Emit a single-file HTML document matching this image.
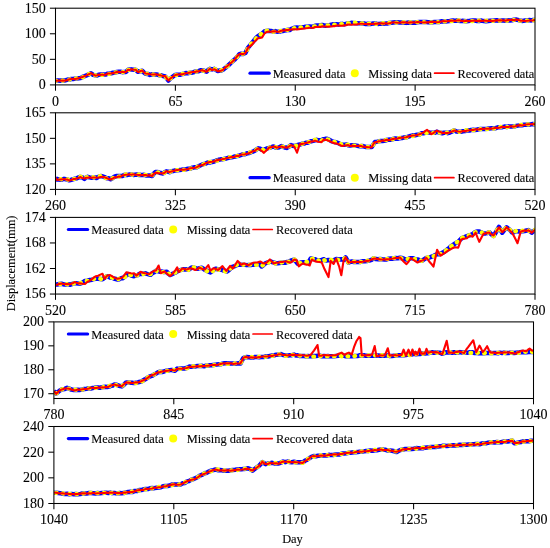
<!DOCTYPE html>
<html><head><meta charset="utf-8"><style>
html,body{margin:0;padding:0;background:#fff;width:550px;height:548px;overflow:hidden}
svg{display:block}
.tk{font-family:'Liberation Serif', 'Times New Roman', serif;font-size:14px;fill:#000;stroke:#000;stroke-width:0.1px}
.lg{font-family:'Liberation Serif', 'Times New Roman', serif;font-size:12.4px;fill:#000;stroke:#000;stroke-width:0.1px}
</style></head><body>
<svg width="550" height="548" viewBox="0 0 550 548">
<rect width="550" height="548" fill="#fff"/>
<clipPath id="c0"><rect x="55.5" y="8.2" width="479.5" height="76.7"/></clipPath>
<g clip-path="url(#c0)" fill="none" stroke-linejoin="round">
<polyline points="55.50,80.80 56.83,80.61 58.67,80.42 60.50,80.71 62.30,80.20 64.10,80.43 65.90,80.21 67.73,79.62 69.57,79.57 71.40,78.88 73.20,79.02 75.00,78.63 76.80,78.51 78.63,78.28 80.47,78.10 82.30,77.14 84.10,76.27 85.90,75.62 87.70,74.91 89.35,74.00 91.00,73.23 93.20,74.83 95.40,75.38 97.00,75.55 98.60,74.75 100.43,74.55 102.27,74.43 104.10,74.47 105.90,74.45 107.70,73.64 109.50,73.56 111.33,73.26 113.17,72.74 115.00,72.53 116.83,71.99 118.67,71.79 120.50,71.69 122.30,72.13 124.10,72.05 125.90,72.07 128.10,69.76 129.75,69.57 131.40,69.36 133.55,69.81 135.70,69.84 137.90,71.72 140.10,71.15 142.30,70.82 143.90,72.41 145.50,73.66 147.70,73.90 149.90,74.94 151.73,74.27 153.57,74.41 155.40,74.58 157.20,74.52 159.00,75.13 160.80,75.18 163.00,76.02 165.20,76.49 166.85,78.35 168.50,80.56 170.10,78.72 171.70,77.54 173.35,76.22 175.00,74.96 176.83,74.70 178.67,74.80 180.50,74.71 182.30,74.02 184.10,73.78 185.90,72.99 187.73,73.17 189.57,72.87 191.40,72.85 193.20,72.36 195.00,71.62 196.80,71.32 198.63,71.15 200.47,70.33 202.30,70.27 204.45,70.87 206.60,71.63 208.25,69.94 209.90,68.79 212.10,69.44 214.30,68.82 215.90,69.82 217.50,71.06 219.15,70.51 220.80,70.76 223.00,69.73 225.20,68.07 227.40,66.12 229.55,64.25 231.70,61.94 233.35,60.64 235.00,59.20 237.20,56.82 239.40,54.12 241.05,53.81 242.70,54.07 245.40,53.01 248.10,47.61 250.20,45.14 252.30,42.56 254.10,40.30 255.90,38.09 257.70,36.34 259.90,34.91 262.10,33.65 264.30,31.52 266.50,30.93 268.65,30.81 270.80,30.88 273.30,31.52 275.13,31.09 276.97,31.68 278.80,31.60 280.63,31.40 282.47,31.08 284.30,30.52 286.10,30.30 287.90,29.86 289.70,29.99 291.47,28.93 293.23,28.26 295.00,27.70 296.83,27.60 298.67,27.65 300.50,27.39 302.30,27.12 304.10,26.99 305.90,26.72 307.73,26.77 309.57,26.40 311.40,26.86 313.20,26.38 315.00,25.75 316.80,25.53 318.63,25.43 320.47,25.27 322.30,24.94 324.10,25.54 325.90,25.75 327.70,25.48 329.53,25.19 331.37,24.61 333.20,24.32 335.00,24.42 336.80,24.30 338.60,24.63 340.43,24.06 342.27,23.87 344.10,24.42 345.90,23.85 347.70,23.32 349.50,23.33 351.33,22.84 353.17,23.05 355.00,23.23 356.83,23.32 358.67,23.37 360.50,23.23 362.33,23.47 364.17,23.50 366.00,24.09 368.16,23.86 370.32,23.98 372.48,23.60 374.64,23.47 376.80,23.82 378.98,23.88 381.16,23.73 383.34,23.63 385.52,23.58 387.70,23.47 389.53,22.88 391.37,22.85 393.20,22.50 395.38,22.27 397.56,22.27 399.74,22.45 401.92,22.43 404.10,22.73 406.28,22.88 408.46,22.48 410.64,22.79 412.82,22.78 415.00,22.72 417.18,22.25 419.36,22.08 421.54,22.03 423.72,21.95 425.90,21.89 428.08,22.17 430.26,22.34 432.44,22.28 434.62,22.01 436.80,22.11 438.98,22.01 441.15,21.31 443.32,21.51 445.50,21.49 447.43,21.27 449.35,21.13 451.27,20.81 453.20,20.47 455.00,20.87 456.80,20.52 458.60,20.81 460.43,21.10 462.27,20.86 464.10,21.03 466.28,21.33 468.46,21.10 470.64,20.63 472.82,20.52 475.00,20.46 477.18,21.02 479.36,20.99 481.54,20.57 483.72,21.09 485.90,21.24 488.08,20.95 490.26,20.68 492.44,20.75 494.62,20.40 496.80,20.26 498.98,20.87 501.16,20.58 503.34,20.44 505.52,20.66 507.70,20.25 509.90,20.41 512.10,20.23 514.30,19.65 516.50,19.53 518.65,20.21 520.80,20.82 522.97,20.89 525.15,20.48 527.33,20.42 529.50,20.04 531.33,20.45 533.17,19.93 535.00,19.90" stroke="#0000ff" stroke-width="4.5"/>
<polyline points="55.50,80.80 56.83,80.69 58.67,80.75 60.50,81.00 62.30,80.42 64.10,80.82 65.90,80.30 67.73,79.97 69.57,79.59 71.40,78.72 73.20,79.01 75.00,78.62 76.80,78.30 78.63,78.63 80.47,77.54 82.30,77.37 84.10,76.69 85.90,75.59 87.70,74.43 89.35,73.97 91.00,73.36 93.20,74.78 95.40,75.31 97.00,75.36 98.60,74.65 100.43,74.58 102.27,74.97 104.10,74.61 105.90,74.30 107.70,74.13 109.50,73.91 111.33,73.11 113.17,72.95 115.00,72.51 116.83,72.31 118.67,72.29 120.50,71.85 122.30,72.03 124.10,72.08 125.90,72.64 128.10,69.90 129.75,69.98 131.40,69.94 133.55,69.36 135.70,69.76 137.90,72.34 140.10,71.44 142.30,70.44 143.90,71.77 145.50,73.44 147.70,73.62 149.90,74.34 151.73,74.11 153.57,74.64 155.40,74.68 157.20,75.16 159.00,74.79 160.80,75.72 163.00,76.06 165.20,75.94 166.85,78.68 168.50,80.77 170.10,78.57 171.70,77.85 173.35,76.05 175.00,74.89 176.83,75.22 178.67,74.90 180.50,74.06 182.30,73.96 184.10,73.68 185.90,73.14 187.73,72.73 189.57,72.59 191.40,72.72 193.20,71.65 195.00,71.82 196.80,71.34 198.63,70.55 200.47,70.50 202.30,70.42 204.45,71.11 206.60,71.46 208.25,70.74 209.90,68.89 212.10,70.17 214.30,68.60 215.90,69.67 217.50,70.34 219.15,71.08 220.80,70.57 223.00,69.33 225.20,67.72 227.40,66.31 229.55,64.32 231.70,61.86 233.35,60.35 235.00,59.72 237.20,56.62 239.40,54.00 241.05,53.64 242.70,53.86 245.40,53.39 248.10,47.73 250.20,44.72 252.30,42.94 254.10,40.60 255.90,38.73 257.70,35.98 259.90,35.36 262.10,33.17 264.30,31.56 266.50,30.75 268.65,30.64 270.80,30.85 273.30,31.83 275.13,31.17 276.97,31.03 278.80,31.43 280.63,30.87 282.47,30.48 284.30,30.26 286.10,29.92 287.90,29.84 289.70,29.71 291.47,29.04 293.23,28.83 295.00,27.69 296.83,27.83 298.67,27.44 300.50,27.55 302.30,26.98 304.10,26.98 305.90,26.52 307.73,27.10 309.57,26.78 311.40,26.29 313.20,26.27 315.00,26.43 316.80,25.31 318.63,25.85 320.47,25.30 322.30,25.20 324.10,25.63 325.90,25.29 327.70,25.51 329.53,25.39 331.37,25.38 333.20,24.44 335.00,24.87 336.80,24.67 338.60,24.54 340.43,24.20 342.27,24.05 344.10,23.65 345.90,23.46 347.70,23.14 349.50,23.54 351.33,22.92 353.17,22.70 355.00,22.48 356.83,23.41 358.67,23.60 360.50,23.57 362.33,23.35 364.17,23.48 366.00,23.69 368.16,23.80 370.32,23.44 372.48,23.67 374.64,23.42 376.80,24.06 378.98,24.01 381.16,23.53 383.34,23.16 385.52,23.83 387.70,23.11 389.53,22.92 391.37,22.33 393.20,22.48 395.38,22.57 397.56,22.60 399.74,22.30 401.92,22.60 404.10,22.10 406.28,22.32 408.46,22.11 410.64,22.38 412.82,21.98 415.00,21.92 417.18,22.14 419.36,22.01 421.54,22.31 423.72,22.19 425.90,22.35 428.08,22.24 430.26,22.28 432.44,22.42 434.62,21.91 436.80,21.83 438.98,22.28 441.15,21.25 443.32,21.62 445.50,21.34 447.43,20.62 449.35,21.29 451.27,21.22 453.20,20.83 455.00,20.90 456.80,20.95 458.60,20.24 460.43,20.79 462.27,20.94 464.10,21.43 466.28,21.32 468.46,21.27 470.64,20.94 472.82,21.17 475.00,20.88 477.18,20.93 479.36,20.51 481.54,20.35 483.72,20.49 485.90,20.76 488.08,20.44 490.26,21.12 492.44,20.78 494.62,20.79 496.80,20.73 498.98,20.72 501.16,20.47 503.34,19.92 505.52,20.66 507.70,20.55 509.90,20.15 512.10,20.04 514.30,20.01 516.50,19.27 518.65,20.59 520.80,20.75 522.97,20.40 525.15,20.42 527.33,20.70 529.50,20.01 531.33,20.41 533.17,20.51 535.00,19.90" stroke="#ffff00" stroke-width="4.2" stroke-linecap="round" stroke-dasharray="0.8 6.2" stroke-dashoffset="0.0"/>
<polyline points="55.50,80.80 56.83,80.73 58.67,80.58 60.50,80.59 62.30,80.63 64.10,80.59 65.90,80.38 67.73,80.03 69.57,79.27 71.40,78.95 73.20,78.89 75.00,79.10 76.80,78.66 78.63,78.38 80.47,77.53 82.30,77.09 84.10,76.30 85.90,75.65 87.70,74.73 89.35,74.07 91.00,73.15 93.20,74.51 95.40,75.68 97.00,75.28 98.60,74.63 100.43,75.08 102.27,74.49 104.10,74.93 105.90,74.54 107.70,73.53 109.50,73.47 111.33,73.39 113.17,73.16 115.00,72.46 116.83,72.14 118.67,71.90 120.50,72.21 122.30,71.80 124.10,72.16 125.90,71.95 128.10,69.72 129.75,69.92 131.40,69.24 133.55,69.82 135.70,69.71 137.90,72.17 140.10,71.24 142.30,70.61 143.90,72.43 145.50,73.49 147.70,73.72 149.90,74.25 151.73,74.53 153.57,74.43 155.40,74.26 157.20,74.52 159.00,75.02 160.80,75.37 163.00,76.14 165.20,75.95 166.85,78.48 168.50,80.54 170.10,78.58 171.70,77.70 173.35,76.30 175.00,75.18 176.83,74.59 178.67,74.48 180.50,74.33 182.30,74.38 184.10,73.73 185.90,73.20 187.73,72.98 189.57,72.61 191.40,72.18 193.20,71.85 195.00,72.00 196.80,71.25 198.63,71.34 200.47,70.49 202.30,70.14 204.45,71.11 206.60,71.68 208.25,70.16 209.90,68.92 212.10,69.97 214.30,69.22 215.90,69.99 217.50,71.09 219.15,71.11 220.80,70.83 223.00,69.85 225.20,67.48 227.40,66.06 229.55,63.97 231.70,62.28 233.35,60.80 235.00,59.15 237.20,56.23 239.40,54.10 241.05,53.79 242.70,54.28 245.40,53.09 248.10,47.66 250.20,46.07 252.30,44.33 254.10,42.00 255.90,40.44 257.70,38.36 259.90,38.04 262.10,37.43 264.30,33.77 266.50,31.96 268.65,31.65 270.80,31.78 273.30,31.40 275.13,31.20 276.97,31.68 278.80,31.75 280.63,31.10 282.47,30.61 284.30,30.38 286.10,30.08 287.90,30.02 289.70,29.61 291.47,29.48 293.23,29.26 295.00,29.25 296.83,29.40 298.67,29.24 300.50,28.94 302.30,28.71 304.10,28.55 305.90,28.21 307.73,28.05 309.57,27.73 311.40,27.74 313.20,27.93 315.00,27.04 316.80,27.00 318.63,26.92 320.47,26.92 322.30,26.30 324.10,26.44 325.90,26.52 327.70,26.73 329.53,26.46 331.37,26.52 333.20,26.14 335.00,26.09 336.80,25.43 338.60,25.37 340.43,25.75 342.27,25.78 344.10,25.38 345.90,25.19 347.70,24.52 349.50,24.52 351.33,24.77 353.17,24.56 355.00,24.45 356.83,24.48 358.67,23.92 360.50,23.78 362.33,23.76 364.17,23.97 366.00,24.03 368.16,24.15 370.32,23.94 372.48,23.82 374.64,23.85 376.80,23.57 378.98,23.58 381.16,23.16 383.34,23.62 385.52,23.17 387.70,23.59 389.53,23.17 391.37,22.70 393.20,22.34 395.38,22.43 397.56,22.70 399.74,22.74 401.92,22.33 404.10,22.30 406.28,22.58 408.46,22.58 410.64,22.40 412.82,22.25 415.00,22.47 417.18,22.00 419.36,22.14 421.54,22.19 423.72,22.48 425.90,22.20 428.08,22.35 430.26,22.04 432.44,21.85 434.62,21.84 436.80,22.32 438.98,21.94 441.15,21.47 443.32,21.07 445.50,21.20 447.43,21.20 449.35,20.89 451.27,20.66 453.20,20.82 455.00,20.96 456.80,20.44 458.60,20.27 460.43,20.65 462.27,20.88 464.10,21.23 466.28,20.81 468.46,21.15 470.64,21.03 472.82,20.78 475.00,20.49 477.18,21.07 479.36,20.65 481.54,21.04 483.72,20.67 485.90,20.71 488.08,21.02 490.26,20.64 492.44,21.04 494.62,20.66 496.80,20.38 498.98,20.35 501.16,20.42 503.34,20.54 505.52,20.67 507.70,20.05 509.90,20.08 512.10,19.80 514.30,20.18 516.50,19.45 518.65,20.04 520.80,20.69 522.97,20.75 525.15,20.93 527.33,20.74 529.50,20.46 531.33,20.51 533.17,20.34 535.00,19.90" stroke="#ff0000" stroke-width="2.1"/>
</g>
<rect x="55.5" y="8.2" width="479.5" height="76.7" fill="none" stroke="#000" stroke-width="1.05"/>
<line x1="49.9" y1="84.90" x2="55.5" y2="84.90" stroke="#000" stroke-width="1.05"/>
<text x="45.70" y="89.30" text-anchor="end" class="tk">0</text>
<line x1="49.9" y1="59.33" x2="55.5" y2="59.33" stroke="#000" stroke-width="1.05"/>
<text x="45.70" y="63.73" text-anchor="end" class="tk">50</text>
<line x1="49.9" y1="33.77" x2="55.5" y2="33.77" stroke="#000" stroke-width="1.05"/>
<text x="45.70" y="38.17" text-anchor="end" class="tk">100</text>
<line x1="49.9" y1="8.20" x2="55.5" y2="8.20" stroke="#000" stroke-width="1.05"/>
<text x="45.70" y="12.60" text-anchor="end" class="tk">150</text>
<line x1="55.50" y1="84.9" x2="55.50" y2="90.70" stroke="#000" stroke-width="1.05"/>
<text x="55.50" y="105.60" text-anchor="middle" class="tk">0</text>
<line x1="175.38" y1="84.9" x2="175.38" y2="90.70" stroke="#000" stroke-width="1.05"/>
<text x="175.38" y="105.60" text-anchor="middle" class="tk">65</text>
<line x1="295.25" y1="84.9" x2="295.25" y2="90.70" stroke="#000" stroke-width="1.05"/>
<text x="295.25" y="105.60" text-anchor="middle" class="tk">130</text>
<line x1="415.12" y1="84.9" x2="415.12" y2="90.70" stroke="#000" stroke-width="1.05"/>
<text x="415.12" y="105.60" text-anchor="middle" class="tk">195</text>
<line x1="535.00" y1="84.9" x2="535.00" y2="90.70" stroke="#000" stroke-width="1.05"/>
<text x="535.00" y="105.60" text-anchor="middle" class="tk">260</text>
<line x1="250.00" y1="73.20" x2="269.20" y2="73.20" stroke="#0000ff" stroke-width="3.2" stroke-linecap="round"/>
<text x="272.80" y="77.80" class="lg">Measured data</text>
<circle cx="354.80" cy="73.20" r="4" fill="#ffff00"/>
<text x="368.30" y="77.80" class="lg">Missing data</text>
<line x1="434.60" y1="73.20" x2="453.90" y2="73.20" stroke="#ff0000" stroke-width="1.7" stroke-linecap="round"/>
<text x="457.60" y="77.80" class="lg">Recovered data</text>
<clipPath id="c1"><rect x="55.5" y="112.8" width="479.5" height="76.60000000000001"/></clipPath>
<g clip-path="url(#c1)" fill="none" stroke-linejoin="round">
<polyline points="55.50,178.00 57.20,179.48 58.85,179.28 60.50,179.71 62.30,179.47 64.10,178.87 65.90,179.22 67.55,179.67 69.20,180.31 71.35,179.78 73.50,179.17 75.15,178.60 76.80,178.35 78.45,177.45 80.10,176.92 82.30,177.29 84.50,178.82 86.10,177.50 87.70,176.80 89.53,177.39 91.37,177.66 93.20,177.65 94.85,177.53 96.50,177.98 98.65,176.81 100.80,176.09 103.00,176.44 105.20,177.40 107.00,178.34 108.80,178.30 110.60,179.14 112.80,177.97 115.00,176.49 116.83,175.98 118.67,175.97 120.50,175.99 122.30,176.03 124.10,175.00 125.90,174.77 127.73,174.88 129.57,174.49 131.40,174.44 133.20,174.92 135.00,174.68 136.80,174.43 138.63,174.95 140.47,174.87 142.30,175.04 144.10,174.85 145.90,175.38 147.70,175.49 149.90,175.54 152.10,176.01 153.75,173.62 155.40,172.01 157.00,172.08 158.60,172.32 160.80,173.07 163.00,173.42 164.65,172.28 166.30,171.35 167.90,171.65 169.50,172.20 171.33,171.14 173.17,171.05 175.00,170.47 177.18,170.33 179.36,170.09 181.54,169.78 183.72,169.38 185.90,169.17 188.08,168.76 190.26,168.62 192.44,167.69 194.62,167.33 196.80,167.28 198.98,166.04 201.16,165.04 203.34,164.13 205.52,163.62 207.70,162.58 209.88,162.52 212.06,161.93 214.24,161.48 216.42,160.46 218.60,159.81 220.78,159.34 222.96,159.14 225.14,158.81 227.32,158.14 229.50,157.51 231.33,157.21 233.17,156.92 235.00,156.52 236.83,156.14 238.67,155.78 240.50,155.22 242.68,154.28 244.85,154.24 247.02,153.31 249.20,152.95 251.13,152.08 253.07,151.60 255.00,150.49 256.65,149.42 258.30,148.32 260.10,148.76 261.90,149.77 263.70,150.05 265.53,149.05 267.37,148.26 269.20,147.84 271.35,147.06 273.50,146.41 275.15,147.37 276.80,147.81 279.00,147.39 281.20,146.12 283.00,146.82 284.80,147.49 286.60,147.94 288.80,146.79 291.00,144.98 292.65,145.71 294.30,146.13 297.00,145.28 299.70,144.53 301.90,143.81 304.10,143.60 305.90,142.78 307.70,142.69 309.50,141.96 311.33,141.17 313.17,140.86 315.00,140.31 316.65,139.82 318.30,140.27 319.90,140.33 321.50,140.10 323.70,139.11 325.35,138.85 327.00,138.79 329.20,139.83 331.40,141.07 333.00,141.71 334.60,141.99 336.80,142.51 339.00,143.38 340.65,144.37 342.30,144.78 344.45,144.67 346.60,144.39 348.25,145.26 349.90,145.53 352.10,145.26 354.30,145.35 356.50,145.63 358.30,145.94 360.10,146.20 361.90,146.01 363.73,146.33 365.57,146.97 367.40,147.04 369.55,146.95 371.70,146.97 373.90,143.62 375.00,142.07 376.82,141.87 378.65,141.35 380.48,141.02 382.30,140.95 384.48,140.75 386.66,140.00 388.84,139.59 391.02,139.66 393.20,138.99 395.38,138.51 397.56,138.80 399.74,138.13 401.92,138.06 404.10,137.43 406.28,137.31 408.46,136.55 410.64,135.88 412.82,135.32 415.00,135.24 417.17,134.77 419.33,134.42 421.50,133.31 423.33,133.32 425.17,132.78 427.00,132.50 429.20,132.50 431.40,132.85 433.20,132.68 435.00,132.63 436.80,131.73 438.63,132.29 440.47,132.81 442.30,133.23 444.10,132.69 445.90,132.64 447.70,133.21 449.90,132.50 452.10,131.42 454.30,130.39 456.45,131.55 458.60,131.72 460.78,131.78 462.96,131.28 465.14,131.13 467.32,130.36 469.50,130.50 471.33,129.92 473.17,129.87 475.00,129.99 476.83,129.80 478.67,129.16 480.50,129.00 482.68,128.99 484.86,128.93 487.04,128.70 489.22,128.38 491.40,128.32 493.58,128.36 495.76,128.18 497.94,127.28 500.12,127.34 502.30,127.18 504.48,126.56 506.66,127.00 508.84,126.37 511.02,126.59 513.20,126.44 515.38,126.17 517.56,125.62 519.74,125.38 521.92,125.18 524.10,124.75 526.28,124.79 528.46,124.52 530.64,124.40 532.82,123.99 535.00,124.20" stroke="#0000ff" stroke-width="4.5"/>
<polyline points="55.50,178.00 57.20,179.72 58.85,179.49 60.50,179.14 62.30,179.56 64.10,179.48 65.90,179.06 67.55,179.43 69.20,180.37 71.35,179.51 73.50,179.03 75.15,178.88 76.80,178.09 78.45,177.49 80.10,176.61 82.30,177.09 84.50,178.64 86.10,177.28 87.70,177.13 89.53,177.44 91.37,177.44 93.20,177.25 94.85,177.85 96.50,177.88 98.65,177.35 100.80,175.44 103.00,177.01 105.20,178.00 107.00,178.30 108.80,178.95 110.60,178.89 112.80,178.23 115.00,176.29 116.83,176.76 118.67,176.72 120.50,175.97 122.30,176.02 124.10,175.60 125.90,174.17 127.73,174.45 129.57,174.86 131.40,174.26 133.20,175.00 135.00,174.37 136.80,174.92 138.63,174.44 140.47,175.00 142.30,175.62 144.10,174.91 145.90,174.96 147.70,175.21 149.90,175.27 152.10,175.24 153.75,173.63 155.40,171.86 157.00,172.54 158.60,172.18 160.80,173.15 163.00,173.17 164.65,172.73 166.30,171.02 167.90,171.68 169.50,172.04 171.33,171.23 173.17,171.21 175.00,170.36 177.18,170.18 179.36,170.28 181.54,169.30 183.72,169.99 185.90,169.43 188.08,168.75 190.26,168.72 192.44,167.74 194.62,168.03 196.80,167.18 198.98,166.08 201.16,165.60 203.34,164.40 205.52,163.26 207.70,162.94 209.88,161.73 212.06,161.98 214.24,160.89 216.42,160.76 218.60,160.58 220.78,159.71 222.96,159.30 225.14,158.47 227.32,157.68 229.50,157.23 231.33,156.92 233.17,156.95 235.00,156.33 236.83,155.98 238.67,155.93 240.50,154.73 242.68,154.28 244.85,154.15 247.02,152.97 249.20,152.40 251.13,152.02 253.07,151.04 255.00,150.56 256.65,149.32 258.30,148.58 260.10,149.09 261.90,149.20 263.70,150.12 265.53,149.14 267.37,147.97 269.20,147.94 271.35,146.79 273.50,146.25 275.15,146.75 276.80,147.84 279.00,147.42 281.20,146.68 283.00,146.74 284.80,147.03 286.60,147.21 288.80,146.64 291.00,145.36 292.65,145.70 294.30,146.55 297.00,145.44 299.70,144.64 301.90,143.98 304.10,143.05 305.90,143.27 307.70,141.98 309.50,142.03 311.33,141.24 313.17,140.40 315.00,139.56 316.65,140.38 318.30,139.71 319.90,140.30 321.50,140.74 323.70,138.84 325.35,138.80 327.00,139.11 329.20,140.01 331.40,141.14 333.00,141.91 334.60,141.87 336.80,142.66 339.00,143.30 340.65,143.80 342.30,145.39 344.45,145.08 346.60,144.82 348.25,144.56 349.90,145.84 352.10,145.81 354.30,145.60 356.50,145.94 358.30,145.85 360.10,145.83 361.90,145.91 363.73,146.30 365.57,146.37 367.40,146.94 369.55,147.35 371.70,147.30 373.90,143.65 375.00,142.41 376.82,141.59 378.65,141.50 380.48,141.01 382.30,140.99 384.48,140.42 386.66,139.87 388.84,139.94 391.02,139.97 393.20,138.92 395.38,139.24 397.56,138.04 399.74,137.94 401.92,137.58 404.10,137.74 406.28,137.48 408.46,136.83 410.64,135.95 412.82,136.04 415.00,135.03 417.17,134.41 419.33,134.54 421.50,133.73 423.33,133.43 425.17,133.03 427.00,132.98 429.20,132.72 431.40,133.34 433.20,132.86 435.00,132.69 436.80,131.94 438.63,132.52 440.47,132.67 442.30,132.71 444.10,132.61 445.90,133.02 447.70,132.48 449.90,132.58 452.10,131.08 454.30,130.23 456.45,130.86 458.60,132.23 460.78,131.34 462.96,130.84 465.14,130.43 467.32,130.14 469.50,130.49 471.33,130.25 473.17,130.13 475.00,129.99 476.83,129.13 478.67,129.47 480.50,129.06 482.68,129.38 484.86,129.24 487.04,129.17 489.22,128.21 491.40,128.87 493.58,128.61 495.76,128.34 497.94,127.21 500.12,127.01 502.30,126.61 504.48,126.41 506.66,127.11 508.84,126.95 511.02,126.65 513.20,126.73 515.38,126.21 517.56,125.55 519.74,125.04 521.92,124.72 524.10,125.06 526.28,124.38 528.46,124.38 530.64,124.36 532.82,123.84 535.00,124.20" stroke="#ffff00" stroke-width="4.2" stroke-linecap="round" stroke-dasharray="0.8 6.2" stroke-dashoffset="1.3"/>
<polyline points="55.50,178.00 57.20,180.03 58.85,179.65 60.50,179.55 62.30,179.21 64.10,179.07 65.90,179.42 67.55,179.65 69.20,180.45 71.35,179.88 73.50,179.07 75.15,178.89 76.80,178.46 78.45,178.04 80.10,177.09 82.30,177.99 84.50,178.53 86.10,177.80 87.70,177.75 89.53,177.28 91.37,177.86 93.20,177.47 94.85,177.50 96.50,177.79 98.65,177.48 100.80,176.93 103.00,176.70 105.20,177.49 107.00,178.19 108.80,179.11 110.60,179.38 112.80,178.50 115.00,177.29 116.83,177.27 118.67,176.50 120.50,176.61 122.30,175.58 124.10,174.97 125.90,174.74 127.73,174.60 129.57,174.33 131.40,174.70 133.20,174.31 135.00,174.80 136.80,174.74 138.63,175.00 140.47,175.09 142.30,175.10 144.10,175.13 145.90,175.13 147.70,175.47 149.90,175.16 152.10,175.97 153.75,174.02 155.40,172.79 157.00,172.83 158.60,173.28 160.80,173.25 163.00,173.42 164.65,172.72 166.30,171.21 167.90,171.62 169.50,171.92 171.33,171.54 173.17,171.01 175.00,170.40 177.18,169.99 179.36,169.78 181.54,169.46 183.72,169.74 185.90,169.41 188.08,169.03 190.26,168.19 192.44,167.94 194.62,167.73 196.80,167.16 198.98,165.96 201.16,165.31 203.34,164.73 205.52,163.40 207.70,162.48 209.88,162.04 212.06,161.80 214.24,161.38 216.42,160.38 218.60,159.86 220.78,159.44 222.96,159.02 225.14,158.68 227.32,157.94 229.50,157.58 231.33,157.05 233.17,157.17 235.00,156.56 236.83,155.69 238.67,155.86 240.50,154.82 242.68,154.47 244.85,154.34 247.02,153.66 249.20,153.06 251.13,152.12 253.07,151.22 255.00,150.80 256.65,149.32 258.30,148.29 260.10,149.89 261.90,151.11 263.70,152.83 265.53,151.30 267.37,149.44 269.20,147.50 271.35,147.14 273.50,146.57 275.15,146.90 276.80,147.77 279.00,146.98 281.20,146.57 283.00,147.12 284.80,147.22 286.60,147.75 288.80,146.67 291.00,145.24 292.65,145.66 294.30,146.56 297.00,152.67 299.70,144.39 301.90,143.89 304.10,143.55 305.90,142.99 307.70,142.53 309.50,141.97 311.33,141.50 313.17,141.36 315.00,140.62 316.65,141.19 318.30,141.80 319.90,141.95 321.50,142.09 323.70,139.63 325.35,139.85 327.00,139.97 329.20,141.09 331.40,141.94 333.00,142.67 334.60,143.40 336.80,143.53 339.00,144.51 340.65,145.39 342.30,145.92 344.45,145.44 346.60,145.23 348.25,145.13 349.90,146.03 352.10,145.66 354.30,146.00 356.50,146.01 358.30,145.91 360.10,145.82 361.90,146.35 363.73,146.60 365.57,146.99 367.40,147.11 369.55,147.20 371.70,147.33 373.90,143.32 375.00,142.14 376.82,142.14 378.65,141.25 380.48,141.20 382.30,140.62 384.48,140.58 386.66,139.84 388.84,140.14 391.02,139.40 393.20,138.89 395.38,138.70 397.56,138.45 399.74,137.84 401.92,137.78 404.10,137.44 406.28,137.18 408.46,136.48 410.64,135.96 412.82,135.47 415.00,135.37 417.17,134.97 419.33,134.15 421.50,133.40 423.33,132.64 425.17,131.19 427.00,129.90 429.20,131.79 431.40,134.19 433.20,133.12 435.00,131.89 436.80,130.68 438.63,131.48 440.47,131.97 442.30,133.22 444.10,132.80 445.90,133.00 447.70,133.12 449.90,132.39 452.10,131.41 454.30,130.56 456.45,131.28 458.60,131.54 460.78,131.73 462.96,131.10 465.14,131.15 467.32,130.44 469.50,130.21 471.33,129.94 473.17,129.88 475.00,129.53 476.83,129.22 478.67,129.54 480.50,129.05 482.68,128.88 484.86,128.78 487.04,128.77 489.22,128.59 491.40,128.60 493.58,128.31 495.76,127.80 497.94,127.90 500.12,127.55 502.30,126.69 504.48,127.11 506.66,127.04 508.84,126.84 511.02,126.27 513.20,126.63 515.38,126.17 517.56,125.42 519.74,125.10 521.92,125.44 524.10,124.91 526.28,124.51 528.46,124.28 530.64,124.19 532.82,124.13 535.00,124.20" stroke="#ff0000" stroke-width="2.1"/>
</g>
<rect x="55.5" y="112.8" width="479.5" height="76.60000000000001" fill="none" stroke="#000" stroke-width="1.05"/>
<line x1="49.9" y1="189.40" x2="55.5" y2="189.40" stroke="#000" stroke-width="1.05"/>
<text x="45.70" y="193.80" text-anchor="end" class="tk">120</text>
<line x1="49.9" y1="163.87" x2="55.5" y2="163.87" stroke="#000" stroke-width="1.05"/>
<text x="45.70" y="168.27" text-anchor="end" class="tk">135</text>
<line x1="49.9" y1="138.33" x2="55.5" y2="138.33" stroke="#000" stroke-width="1.05"/>
<text x="45.70" y="142.73" text-anchor="end" class="tk">150</text>
<line x1="49.9" y1="112.80" x2="55.5" y2="112.80" stroke="#000" stroke-width="1.05"/>
<text x="45.70" y="117.20" text-anchor="end" class="tk">165</text>
<line x1="55.50" y1="189.4" x2="55.50" y2="195.20" stroke="#000" stroke-width="1.05"/>
<text x="55.50" y="210.10" text-anchor="middle" class="tk">260</text>
<line x1="175.38" y1="189.4" x2="175.38" y2="195.20" stroke="#000" stroke-width="1.05"/>
<text x="175.38" y="210.10" text-anchor="middle" class="tk">325</text>
<line x1="295.25" y1="189.4" x2="295.25" y2="195.20" stroke="#000" stroke-width="1.05"/>
<text x="295.25" y="210.10" text-anchor="middle" class="tk">390</text>
<line x1="415.12" y1="189.4" x2="415.12" y2="195.20" stroke="#000" stroke-width="1.05"/>
<text x="415.12" y="210.10" text-anchor="middle" class="tk">455</text>
<line x1="535.00" y1="189.4" x2="535.00" y2="195.20" stroke="#000" stroke-width="1.05"/>
<text x="535.00" y="210.10" text-anchor="middle" class="tk">520</text>
<line x1="250.00" y1="177.70" x2="269.20" y2="177.70" stroke="#0000ff" stroke-width="3.2" stroke-linecap="round"/>
<text x="272.80" y="182.30" class="lg">Measured data</text>
<circle cx="354.80" cy="177.70" r="4" fill="#ffff00"/>
<text x="368.30" y="182.30" class="lg">Missing data</text>
<line x1="434.60" y1="177.70" x2="453.90" y2="177.70" stroke="#ff0000" stroke-width="1.7" stroke-linecap="round"/>
<text x="457.60" y="182.30" class="lg">Recovered data</text>
<clipPath id="c2"><rect x="55.5" y="217.4" width="479.5" height="76.65"/></clipPath>
<g clip-path="url(#c2)" fill="none" stroke-linejoin="round">
<polyline points="55.50,284.50 57.17,284.53 59.33,284.06 61.50,283.76 63.70,284.41 65.90,284.45 68.10,284.14 70.30,284.77 72.45,283.83 74.60,283.20 76.40,283.28 78.20,283.61 80.00,283.70 82.50,282.59 85.00,280.99 87.50,280.73 90.00,280.02 91.97,279.67 93.93,278.96 95.90,278.77 98.10,278.87 100.30,279.00 102.50,279.31 104.65,277.65 106.80,276.30 108.40,276.59 110.00,277.48 111.92,277.75 113.85,278.49 115.78,279.00 117.70,279.53 119.47,279.22 121.23,278.09 123.00,278.14 125.50,275.98 128.00,274.14 130.03,274.95 132.07,275.81 134.10,276.21 135.90,275.51 137.70,275.16 139.50,273.80 141.33,274.00 143.17,273.80 145.00,273.17 146.83,273.91 148.67,274.29 150.50,274.80 152.30,273.11 154.10,272.30 155.90,270.71 157.73,271.06 159.57,271.71 161.40,271.47 163.20,271.95 165.00,271.89 166.80,271.69 168.45,273.70 170.10,275.01 172.00,274.13 173.90,273.22 175.80,272.44 177.70,271.10 179.53,270.52 181.37,269.78 183.20,269.14 185.00,269.50 186.80,269.29 188.60,269.83 190.25,268.48 191.90,267.50 193.73,267.67 195.57,268.17 197.40,268.83 199.55,268.11 201.70,267.70 203.35,268.68 205.00,269.97 206.83,270.69 208.67,271.63 210.50,272.39 212.30,271.23 214.10,269.44 215.90,268.66 217.73,269.30 219.57,269.60 221.40,269.78 223.20,270.49 225.00,270.82 226.80,271.48 228.63,270.36 230.47,268.51 232.30,266.91 234.10,266.27 235.90,265.62 237.70,264.68 239.53,264.68 241.37,264.69 243.20,264.74 245.00,264.87 246.80,265.13 248.60,265.00 250.43,265.12 252.27,264.77 254.10,264.78 255.90,264.15 257.70,264.04 259.50,263.78 261.70,266.49 263.35,265.19 265.00,263.61 266.83,262.67 268.67,262.26 270.50,261.50 272.30,262.08 274.10,262.60 275.90,263.36 277.73,263.25 279.57,262.97 281.40,262.85 283.20,262.83 285.00,262.87 286.80,262.09 288.73,261.75 290.65,260.68 292.57,260.03 294.50,259.82 296.10,261.60 297.70,263.79 299.53,263.10 301.37,262.43 303.20,262.32 305.00,262.26 306.80,262.31 308.60,262.14 310.80,258.48 312.98,258.99 315.15,259.32 317.32,260.25 319.50,260.50 321.70,259.91 323.90,259.26 324.50,260.15 326.50,260.48 328.50,259.94 330.70,260.33 333.60,260.21 336.20,258.96 339.10,259.54 341.30,259.16 343.50,259.95 345.60,257.42 348.50,262.56 350.10,261.88 351.70,261.49 353.90,261.99 356.10,261.95 358.30,262.05 360.50,261.96 362.68,261.23 364.85,261.34 367.02,261.12 369.20,260.67 371.40,259.90 373.60,258.33 375.78,259.10 377.95,259.20 380.12,258.98 382.30,259.26 384.48,259.49 386.66,259.38 388.84,258.65 391.02,258.59 393.20,258.66 395.47,258.03 397.73,258.29 400.00,257.79 402.17,258.06 404.33,258.84 406.50,259.55 408.70,258.76 410.90,258.22 413.10,258.32 415.30,259.24 417.50,259.40 419.65,260.20 421.80,260.79 424.00,259.34 426.20,258.02 428.02,257.78 429.85,257.36 431.68,256.72 433.50,256.05 435.30,255.10 437.10,254.19 438.90,254.33 440.70,253.64 442.90,252.63 445.10,251.18 447.03,249.67 448.97,248.23 450.90,246.43 453.10,244.92 455.30,243.37 458.20,241.75 461.10,238.77 463.03,237.58 464.97,236.96 466.90,236.07 469.80,235.28 472.70,234.02 475.60,231.85 477.45,231.45 479.30,231.43 481.50,232.50 483.70,233.56 485.53,233.39 487.37,233.10 489.20,232.18 491.40,234.33 493.60,235.92 495.40,233.06 497.20,229.95 499.00,226.84 500.65,230.00 502.30,232.71 504.45,229.88 506.60,227.29 508.43,228.73 510.27,230.38 512.10,232.54 513.90,232.21 515.70,231.29 517.50,231.18 519.15,231.50 520.80,231.21 522.72,231.20 524.65,230.97 526.58,230.55 528.50,230.09 530.10,231.23 531.70,232.68 533.35,231.35 535.00,229.80" stroke="#0000ff" stroke-width="4.5"/>
<polyline points="55.50,284.50 57.17,284.29 59.33,283.75 61.50,284.31 63.70,284.40 65.90,283.98 68.10,284.45 70.30,284.90 72.45,284.14 74.60,283.02 76.40,283.14 78.20,283.42 80.00,283.19 82.50,282.04 85.00,280.88 87.50,280.80 90.00,279.86 91.97,279.56 93.93,278.90 95.90,278.52 98.10,278.48 100.30,278.71 102.50,280.00 104.65,277.77 106.80,275.91 108.40,277.03 110.00,277.79 111.92,277.66 113.85,278.60 115.78,278.84 117.70,279.52 119.47,278.49 121.23,277.97 123.00,278.39 125.50,276.37 128.00,274.09 130.03,274.90 132.07,275.33 134.10,276.58 135.90,275.49 137.70,275.28 139.50,274.37 141.33,274.22 143.17,274.16 145.00,273.25 146.83,273.37 148.67,273.87 150.50,274.18 152.30,272.82 154.10,271.52 155.90,270.76 157.73,271.44 159.57,271.39 161.40,272.25 163.20,272.21 165.00,271.36 166.80,271.90 168.45,273.35 170.10,274.72 172.00,274.61 173.90,272.96 175.80,272.31 177.70,271.44 179.53,271.02 181.37,270.00 183.20,268.99 185.00,269.22 186.80,269.09 188.60,270.07 190.25,269.04 191.90,267.22 193.73,267.37 195.57,267.92 197.40,268.35 199.55,268.40 201.70,267.90 203.35,269.14 205.00,269.65 206.83,271.12 208.67,271.78 210.50,272.45 212.30,271.52 214.10,269.32 215.90,268.14 217.73,269.29 219.57,270.01 221.40,270.28 223.20,270.43 225.00,271.26 226.80,271.96 228.63,269.67 230.47,268.26 232.30,266.56 234.10,265.69 235.90,265.31 237.70,264.27 239.53,264.34 241.37,264.24 243.20,264.78 245.00,264.31 246.80,265.22 248.60,264.90 250.43,264.54 252.27,265.23 254.10,264.32 255.90,264.87 257.70,264.63 259.50,264.49 261.70,265.94 263.35,264.85 265.00,263.10 266.83,263.20 268.67,262.38 270.50,261.43 272.30,261.99 274.10,262.61 275.90,263.82 277.73,263.28 279.57,263.23 281.40,262.54 283.20,262.45 285.00,262.12 286.80,262.61 288.73,261.75 290.65,260.64 292.57,260.67 294.50,259.37 296.10,261.46 297.70,263.16 299.53,262.90 301.37,263.11 303.20,262.23 305.00,261.87 306.80,261.99 308.60,261.62 310.80,258.90 312.98,258.66 315.15,260.08 317.32,259.71 319.50,261.10 321.70,260.32 323.90,259.31 324.50,260.48 326.50,260.14 328.50,259.96 330.70,259.70 333.60,260.36 336.20,259.19 339.10,260.30 341.30,259.93 343.50,259.40 345.60,257.39 348.50,262.80 350.10,261.66 351.70,262.03 353.90,261.59 356.10,262.28 358.30,261.32 360.50,262.11 362.68,261.37 364.85,260.89 367.02,260.48 369.20,261.03 371.40,259.63 373.60,258.19 375.78,258.71 377.95,259.46 380.12,259.04 382.30,259.67 384.48,259.02 386.66,258.84 388.84,259.21 391.02,258.93 393.20,258.20 395.47,257.85 397.73,257.62 400.00,257.91 402.17,258.36 404.33,258.71 406.50,259.21 408.70,258.91 410.90,258.31 413.10,258.88 415.30,259.12 417.50,259.20 419.65,259.67 421.80,260.93 424.00,259.31 426.20,258.32 428.02,257.13 429.85,257.36 431.68,256.36 433.50,256.34 435.30,255.61 437.10,254.49 438.90,253.52 440.70,253.91 442.90,252.38 445.10,251.67 447.03,249.37 448.97,247.59 450.90,246.53 453.10,244.72 455.30,243.16 458.20,241.67 461.10,238.59 463.03,237.17 464.97,236.85 466.90,235.95 469.80,235.02 472.70,233.42 475.60,232.21 477.45,232.12 479.30,231.97 481.50,232.37 483.70,233.71 485.53,233.05 487.37,233.08 489.20,232.06 491.40,234.47 493.60,236.15 495.40,232.79 497.20,229.91 499.00,227.03 500.65,229.79 502.30,232.02 504.45,230.22 506.60,226.72 508.43,228.52 510.27,230.27 512.10,232.25 513.90,232.32 515.70,231.03 517.50,230.60 519.15,231.40 520.80,231.10 522.72,230.64 524.65,230.95 526.58,230.65 528.50,230.32 530.10,231.60 531.70,232.10 533.35,231.52 535.00,229.80" stroke="#ffff00" stroke-width="4.2" stroke-linecap="round" stroke-dasharray="0.8 6.2" stroke-dashoffset="2.6"/>
<polyline points="55.50,284.90 57.17,284.69 59.33,283.85 61.50,283.54 63.70,283.97 65.90,284.15 68.10,284.17 70.30,284.24 72.45,283.33 74.60,282.05 76.40,282.76 78.20,283.35 80.00,283.25 82.50,283.75 85.00,284.07 87.20,282.02 89.40,280.83 91.57,279.47 93.73,277.66 95.90,276.24 98.10,275.70 100.30,274.65 102.50,273.73 104.60,278.81 106.80,275.89 108.45,275.34 110.10,275.02 112.30,276.43 114.50,277.85 116.10,278.54 117.70,278.71 119.90,278.24 122.10,277.62 124.30,275.19 126.50,272.19 128.65,272.76 130.80,273.32 132.45,273.55 134.10,273.32 136.30,275.65 138.45,273.89 140.60,271.81 142.80,272.72 145.00,273.20 147.20,273.70 149.40,274.00 151.55,272.31 153.70,271.05 155.90,270.53 158.60,265.49 160.80,273.21 162.70,272.19 164.60,271.52 166.43,273.20 168.27,274.84 170.10,275.87 171.75,274.65 173.40,272.74 175.30,270.32 177.20,267.34 178.80,271.83 180.45,270.45 182.10,268.58 184.30,268.88 186.50,269.61 188.65,268.75 190.80,268.32 193.00,268.95 195.20,270.06 197.35,269.20 199.50,267.73 201.33,268.57 203.17,269.32 205.00,269.51 206.65,267.19 208.30,265.18 210.50,270.62 212.10,269.30 213.70,268.24 215.90,269.04 218.10,269.96 220.30,268.13 222.50,266.15 224.40,268.57 226.30,270.91 228.20,268.48 230.10,265.94 232.80,268.58 235.25,264.70 237.70,260.91 239.35,262.49 241.00,264.75 242.65,264.02 244.30,263.53 246.45,264.43 248.60,265.18 250.80,263.97 253.00,262.82 255.20,262.56 257.40,262.51 259.00,261.87 260.60,261.46 262.80,263.16 265.00,263.40 267.45,261.80 269.90,259.42 271.80,261.59 273.70,263.49 275.90,262.80 278.10,262.74 280.30,261.96 282.50,261.99 284.65,261.56 286.80,261.50 289.00,262.36 291.20,262.36 292.85,260.69 294.50,259.52 296.60,260.16 298.80,266.36 301.00,264.58 303.20,263.31 304.85,264.32 306.50,264.67 308.10,264.81 309.70,265.49 311.90,259.50 313.55,260.57 315.20,261.38 317.35,261.79 319.50,262.02 321.70,262.41 324.50,269.07 326.50,273.07 328.50,277.08 330.70,260.88 333.60,264.00 336.20,258.85 339.10,266.29 341.30,275.24 343.50,261.16 345.60,257.25 348.50,262.59 350.10,262.16 351.70,261.80 353.90,262.12 356.10,261.85 358.30,261.74 360.50,262.00 362.68,261.79 364.85,261.33 367.02,260.89 369.20,260.67 371.40,259.57 373.60,258.66 375.78,258.63 377.95,258.97 380.12,259.36 382.30,259.52 384.48,259.26 386.66,259.36 388.84,259.18 391.02,258.72 393.20,258.46 395.47,258.05 397.73,257.90 400.00,257.55 402.17,260.05 404.33,262.26 406.50,264.11 408.70,261.54 410.90,257.98 413.10,259.71 415.30,261.07 417.50,262.52 419.65,261.24 421.80,260.65 424.00,259.69 426.20,257.76 428.02,259.83 429.85,262.25 431.68,264.25 433.50,266.59 435.30,258.24 437.10,249.83 438.90,253.05 440.70,255.61 442.90,254.16 445.10,252.83 447.03,251.42 448.97,250.20 450.90,249.17 453.10,247.90 455.30,247.21 458.20,247.72 461.10,239.62 463.03,238.85 464.97,238.58 466.90,238.13 469.80,235.74 472.70,236.75 475.60,232.67 477.45,237.43 479.30,241.79 481.50,237.61 483.70,233.59 485.53,233.51 487.37,232.72 489.20,232.52 491.40,234.32 493.60,235.47 495.40,232.67 497.20,230.23 499.00,227.23 500.65,229.76 502.30,232.23 504.45,230.03 506.60,227.13 508.43,229.06 510.27,231.01 512.10,232.77 513.90,236.08 515.70,239.53 517.50,243.25 519.15,237.41 520.80,231.40 522.72,230.91 524.65,230.63 526.58,230.67 528.50,230.37 530.10,231.30 531.70,232.85 533.35,231.25 535.00,229.80" stroke="#ff0000" stroke-width="2.1"/>
</g>
<rect x="55.5" y="217.4" width="479.5" height="76.65" fill="none" stroke="#000" stroke-width="1.05"/>
<line x1="49.9" y1="294.05" x2="55.5" y2="294.05" stroke="#000" stroke-width="1.05"/>
<text x="45.70" y="298.45" text-anchor="end" class="tk">156</text>
<line x1="49.9" y1="268.50" x2="55.5" y2="268.50" stroke="#000" stroke-width="1.05"/>
<text x="45.70" y="272.90" text-anchor="end" class="tk">162</text>
<line x1="49.9" y1="242.95" x2="55.5" y2="242.95" stroke="#000" stroke-width="1.05"/>
<text x="45.70" y="247.35" text-anchor="end" class="tk">168</text>
<line x1="49.9" y1="217.40" x2="55.5" y2="217.40" stroke="#000" stroke-width="1.05"/>
<text x="45.70" y="221.80" text-anchor="end" class="tk">174</text>
<line x1="55.50" y1="294.05" x2="55.50" y2="299.85" stroke="#000" stroke-width="1.05"/>
<text x="55.50" y="314.75" text-anchor="middle" class="tk">520</text>
<line x1="175.38" y1="294.05" x2="175.38" y2="299.85" stroke="#000" stroke-width="1.05"/>
<text x="175.38" y="314.75" text-anchor="middle" class="tk">585</text>
<line x1="295.25" y1="294.05" x2="295.25" y2="299.85" stroke="#000" stroke-width="1.05"/>
<text x="295.25" y="314.75" text-anchor="middle" class="tk">650</text>
<line x1="415.12" y1="294.05" x2="415.12" y2="299.85" stroke="#000" stroke-width="1.05"/>
<text x="415.12" y="314.75" text-anchor="middle" class="tk">715</text>
<line x1="535.00" y1="294.05" x2="535.00" y2="299.85" stroke="#000" stroke-width="1.05"/>
<text x="535.00" y="314.75" text-anchor="middle" class="tk">780</text>
<line x1="68.40" y1="229.50" x2="87.60" y2="229.50" stroke="#0000ff" stroke-width="3.2" stroke-linecap="round"/>
<text x="91.20" y="234.10" class="lg">Measured data</text>
<circle cx="173.20" cy="229.50" r="4" fill="#ffff00"/>
<text x="186.70" y="234.10" class="lg">Missing data</text>
<line x1="253.00" y1="229.50" x2="272.30" y2="229.50" stroke="#ff0000" stroke-width="1.7" stroke-linecap="round"/>
<text x="276.00" y="234.10" class="lg">Recovered data</text>
<clipPath id="c3"><rect x="53.9" y="321.9" width="479.6" height="76.60000000000002"/></clipPath>
<g clip-path="url(#c3)" fill="none" stroke-linejoin="round">
<polyline points="54.00,391.00 56.20,393.48 58.35,391.79 60.50,390.10 62.70,389.20 64.90,388.90 67.10,387.85 69.27,388.63 71.43,389.57 73.60,389.96 75.80,390.02 78.00,389.69 80.20,389.90 82.38,389.51 84.55,388.89 86.73,388.73 88.90,388.22 90.75,388.45 92.60,388.05 94.45,387.84 96.30,387.54 98.15,387.46 100.00,387.78 101.83,387.15 103.65,386.97 105.47,386.84 107.30,386.92 109.10,386.58 110.90,385.88 112.70,385.46 114.50,384.39 116.70,384.76 118.90,385.69 121.80,386.38 124.00,384.65 126.20,382.40 128.13,382.44 130.07,382.67 132.00,382.72 133.93,383.12 135.87,382.72 137.80,382.39 140.00,381.76 142.20,381.02 145.10,379.29 148.00,377.47 150.20,376.31 152.40,375.62 154.33,374.29 156.27,373.45 158.20,372.22 160.13,371.71 162.07,371.97 164.00,371.55 165.93,370.70 167.87,370.65 169.80,370.12 171.53,369.93 173.27,370.31 175.00,370.72 177.20,368.60 178.90,368.91 180.60,368.42 182.30,368.52 184.45,368.55 186.60,368.00 189.50,366.57 191.32,366.86 193.15,366.49 194.98,366.60 196.80,366.12 198.62,366.00 200.45,366.05 202.28,365.86 204.10,366.33 205.93,365.68 207.75,365.69 209.57,365.21 211.40,365.32 213.20,365.02 215.00,364.83 216.80,364.40 218.60,364.24 220.57,364.36 222.53,363.66 224.50,363.22 226.68,363.28 228.85,363.45 231.02,363.52 233.20,363.47 235.02,363.81 236.85,363.49 238.68,363.26 240.50,363.54 241.90,360.61 243.40,357.84 244.80,357.53 246.84,357.04 248.88,357.26 250.92,357.54 252.96,357.51 255.00,357.06 257.10,357.10 259.20,357.26 261.30,356.91 263.48,357.06 265.66,356.28 267.84,356.54 270.02,355.96 272.20,355.51 274.38,355.29 276.55,354.69 278.72,354.72 280.90,354.03 283.10,354.98 285.30,355.26 287.50,355.61 289.67,355.22 291.83,355.18 294.00,354.60 296.00,355.46 298.00,355.34 300.00,356.01 302.00,356.07 304.00,355.92 306.00,356.31 308.00,356.08 310.00,356.31 312.00,356.21 314.00,355.99 316.00,356.00 318.00,355.75 320.00,355.77 322.00,356.31 324.00,355.99 326.00,356.29 328.00,355.97 330.00,356.34 332.00,356.14 334.00,356.18 336.00,355.98 338.00,355.76 340.00,355.87 342.00,355.85 344.00,355.82 346.00,356.27 348.00,356.01 350.00,356.13 352.00,356.35 354.00,356.11 356.00,356.05 358.00,355.89 360.00,355.24 362.00,355.40 364.00,355.29 366.00,355.81 368.00,355.85 370.00,355.70 372.00,355.68 374.00,355.79 376.00,355.76 378.00,355.38 380.00,355.74 382.00,355.46 384.00,355.71 386.00,355.46 388.00,355.47 390.00,356.09 392.00,355.92 394.00,355.87 396.00,355.36 398.00,355.32 400.00,355.36 402.00,355.23 404.00,355.14 406.00,355.04 408.00,354.64 410.00,354.67 412.00,354.50 414.00,353.78 416.00,354.17 418.00,353.92 420.00,353.95 422.50,353.48 425.00,353.45 427.50,353.28 430.00,352.69 432.00,352.32 434.00,352.77 436.00,352.59 438.00,352.62 440.00,352.81 442.00,353.75 444.00,353.13 446.00,352.28 448.00,352.39 450.00,352.27 452.00,352.72 454.00,352.28 456.00,352.75 458.00,352.60 460.00,352.11 462.00,352.54 464.00,352.33 466.00,352.57 468.00,352.63 470.00,352.25 472.00,352.23 474.00,352.95 476.00,352.71 478.00,353.18 480.00,353.13 482.00,353.17 484.00,353.23 486.00,353.09 488.00,352.97 490.00,352.69 492.00,353.12 494.00,352.91 496.00,352.95 498.00,353.22 500.00,352.64 502.00,353.08 504.00,352.58 506.00,353.04 508.00,353.11 510.00,352.73 512.00,352.85 514.00,353.07 516.00,352.76 518.00,352.61 520.00,352.32 522.17,352.11 524.33,352.23 526.50,352.19 528.67,351.96 530.83,351.95 533.00,352.00" stroke="#0000ff" stroke-width="4.5"/>
<polyline points="54.00,391.00 56.20,393.44 58.35,392.06 60.50,390.07 62.70,389.07 64.90,388.51 67.10,388.22 69.27,388.71 71.43,389.77 73.60,389.75 75.80,389.70 78.00,390.28 80.20,389.54 82.38,389.54 84.55,388.88 86.73,388.94 88.90,388.25 90.75,388.36 92.60,387.67 94.45,388.07 96.30,387.90 98.15,387.66 100.00,387.87 101.83,387.76 103.65,386.86 105.47,386.86 107.30,386.76 109.10,386.06 110.90,385.36 112.70,385.03 114.50,384.40 116.70,385.30 118.90,385.45 121.80,386.11 124.00,384.32 126.20,382.47 128.13,382.53 130.07,382.50 132.00,382.57 133.93,382.34 135.87,383.16 137.80,382.75 140.00,381.38 142.20,381.32 145.10,380.08 148.00,377.26 150.20,375.86 152.40,375.29 154.33,374.27 156.27,373.06 158.20,372.44 160.13,371.54 162.07,372.09 164.00,371.44 165.93,370.96 167.87,370.80 169.80,370.05 171.53,369.82 173.27,369.98 175.00,370.04 177.20,368.13 178.90,368.87 180.60,368.94 182.30,368.40 184.45,368.09 186.60,368.34 189.50,367.05 191.32,367.03 193.15,366.17 194.98,366.68 196.80,366.63 198.62,366.47 200.45,365.98 202.28,365.76 204.10,366.33 205.93,365.65 207.75,365.52 209.57,365.53 211.40,365.17 213.20,365.43 215.00,364.64 216.80,364.24 218.60,364.57 220.57,364.26 222.53,364.09 224.50,363.61 226.68,363.91 228.85,364.04 231.02,363.69 233.20,363.80 235.02,363.36 236.85,363.40 238.68,363.58 240.50,362.98 241.90,361.09 243.40,357.66 244.80,357.24 246.84,357.77 248.88,356.89 250.92,356.84 252.96,357.24 255.00,356.99 257.10,357.42 259.20,356.60 261.30,357.34 263.48,357.10 265.66,356.77 267.84,356.15 270.02,355.74 272.20,355.86 274.38,355.34 276.55,354.87 278.72,354.41 280.90,354.14 283.10,354.87 285.30,355.53 287.50,356.10 289.67,355.06 291.83,354.90 294.00,354.74 296.00,355.26 298.00,355.45 300.00,355.70 302.00,355.63 304.00,355.90 306.00,356.08 308.00,356.63 310.00,356.61 312.00,356.53 314.00,356.59 316.00,356.54 318.00,356.16 320.00,356.31 322.00,355.62 324.00,356.30 326.00,356.29 328.00,356.04 330.00,356.37 332.00,356.69 334.00,356.16 336.00,356.27 338.00,355.86 340.00,355.84 342.00,356.43 344.00,355.61 346.00,355.81 348.00,356.34 350.00,356.15 352.00,355.65 354.00,356.08 356.00,355.65 358.00,355.72 360.00,355.42 362.00,355.59 364.00,355.68 366.00,355.58 368.00,355.35 370.00,355.48 372.00,356.13 374.00,355.73 376.00,355.23 378.00,355.92 380.00,355.25 382.00,355.15 384.00,355.65 386.00,355.43 388.00,355.73 390.00,355.85 392.00,355.49 394.00,355.79 396.00,355.29 398.00,355.65 400.00,355.69 402.00,355.02 404.00,355.19 406.00,354.69 408.00,354.90 410.00,355.16 412.00,354.45 414.00,354.21 416.00,354.19 418.00,353.48 420.00,354.29 422.50,353.87 425.00,353.10 427.50,353.48 430.00,352.69 432.00,352.34 434.00,352.99 436.00,352.46 438.00,353.04 440.00,352.77 442.00,353.78 444.00,352.61 446.00,352.34 448.00,352.44 450.00,352.06 452.00,352.61 454.00,352.20 456.00,352.26 458.00,352.64 460.00,352.33 462.00,352.79 464.00,352.52 466.00,352.77 468.00,352.46 470.00,352.82 472.00,352.89 474.00,352.31 476.00,353.01 478.00,352.72 480.00,353.26 482.00,353.18 484.00,353.33 486.00,352.62 488.00,352.87 490.00,353.24 492.00,353.43 494.00,353.18 496.00,352.48 498.00,353.02 500.00,352.50 502.00,352.95 504.00,353.20 506.00,352.51 508.00,353.33 510.00,353.08 512.00,352.57 514.00,352.43 516.00,352.61 518.00,352.92 520.00,352.58 522.17,352.03 524.33,351.85 526.50,351.86 528.67,352.47 530.83,351.77 533.00,352.00" stroke="#ffff00" stroke-width="4.2" stroke-linecap="round" stroke-dasharray="0.8 6.2" stroke-dashoffset="3.9000000000000004"/>
<polyline points="54.00,391.00 56.20,393.84 58.35,391.70 60.50,390.03 62.70,389.25 64.90,388.52 67.10,388.46 69.27,388.79 71.43,389.47 73.60,390.12 75.80,390.21 78.00,389.56 80.20,389.79 82.38,389.23 84.55,389.05 86.73,388.89 88.90,388.41 90.75,387.77 92.60,387.78 94.45,388.12 96.30,387.93 98.15,387.62 100.00,387.58 101.83,387.19 103.65,387.49 105.47,387.00 107.30,387.16 109.10,386.43 110.90,385.50 112.70,385.13 114.50,384.50 116.70,385.38 118.90,385.56 121.80,386.18 124.00,384.27 126.20,382.40 128.13,382.64 130.07,382.89 132.00,382.92 133.93,382.73 135.87,382.32 137.80,382.56 140.00,381.68 142.20,380.76 145.10,379.57 148.00,377.54 150.20,375.93 152.40,375.05 154.33,374.45 156.27,373.21 158.20,372.24 160.13,372.03 162.07,371.50 164.00,371.35 165.93,370.85 167.87,370.69 169.80,370.24 171.53,369.74 173.27,370.28 175.00,370.59 177.20,368.86 178.90,368.79 180.60,368.69 182.30,368.69 184.45,368.30 186.60,368.05 189.50,366.91 191.32,366.86 193.15,366.81 194.98,366.53 196.80,366.16 198.62,366.41 200.45,366.32 202.28,366.08 204.10,366.09 205.93,365.72 207.75,365.69 209.57,365.41 211.40,364.99 213.20,364.99 215.00,364.78 216.80,365.04 218.60,364.49 220.57,364.04 222.53,363.59 224.50,363.21 226.68,363.39 228.85,363.34 231.02,363.36 233.20,364.06 235.02,363.67 236.85,363.56 238.68,363.55 240.50,363.26 241.90,360.67 243.40,357.70 244.80,357.16 246.84,357.17 248.88,357.46 250.92,357.34 252.96,357.61 255.00,357.19 257.10,357.49 259.20,357.16 261.30,356.71 263.48,356.52 265.66,356.54 267.84,356.56 270.02,355.86 272.20,355.89 274.38,355.27 276.55,355.21 278.72,354.27 280.90,354.19 283.10,354.98 285.30,355.04 287.50,355.53 289.67,355.07 291.83,354.87 294.00,354.64 296.00,355.11 298.00,354.94 300.00,355.23 302.50,355.19 305.00,355.57 306.80,355.69 308.60,355.47 310.40,355.09 312.17,352.96 313.95,350.62 315.73,347.87 317.50,345.01 319.10,355.72 321.07,355.70 323.03,355.26 325.00,355.05 327.50,355.18 330.00,355.53 331.82,355.56 333.65,355.20 335.48,355.20 337.30,354.50 339.45,353.48 341.60,352.67 344.50,354.80 346.70,353.53 348.90,352.63 351.80,354.39 354.00,347.19 356.20,341.54 359.10,336.98 360.50,338.09 361.70,355.18 363.85,355.30 366.00,355.37 368.00,355.06 370.00,355.14 372.00,354.76 374.70,346.10 376.40,356.04 378.20,356.09 380.00,355.19 381.70,355.45 383.40,355.39 385.10,354.98 387.80,348.22 389.50,355.36 391.33,355.25 393.17,355.59 395.00,355.01 397.17,355.42 399.33,355.05 401.50,355.03 403.60,349.66 405.80,355.64 408.50,349.71 410.70,355.17 412.40,349.48 414.50,354.67 415.60,351.63 417.30,354.65 419.50,348.68 421.10,353.69 423.00,353.37 424.90,353.69 426.50,348.83 428.20,352.87 429.85,352.19 431.50,351.82 433.65,352.41 435.80,352.14 438.00,352.59 440.20,353.45 442.40,354.11 444.55,347.64 446.70,340.80 448.90,352.74 451.10,352.46 453.30,353.08 455.10,352.25 456.90,351.84 458.70,351.54 460.53,351.86 462.37,352.53 464.20,352.94 466.35,349.43 468.50,346.71 470.90,343.36 473.30,340.25 476.20,352.17 477.85,349.02 479.50,345.60 481.10,348.61 482.70,352.07 484.90,349.59 487.10,346.22 488.75,349.74 490.40,352.40 492.20,352.66 494.00,352.62 495.80,353.11 497.98,352.77 500.16,352.58 502.34,352.88 504.52,352.23 506.70,352.56 508.90,352.37 511.10,353.05 513.30,353.16 515.50,353.75 517.40,352.37 519.30,351.89 521.20,350.96 523.10,350.49 524.75,350.91 526.40,351.09 528.00,349.71 529.60,348.63 531.25,349.88 532.90,351.30" stroke="#ff0000" stroke-width="2.1"/>
</g>
<rect x="53.9" y="321.9" width="479.6" height="76.60000000000002" fill="none" stroke="#000" stroke-width="1.05"/>
<line x1="48.3" y1="393.71" x2="53.9" y2="393.71" stroke="#000" stroke-width="1.05"/>
<text x="44.10" y="398.11" text-anchor="end" class="tk">170</text>
<line x1="48.3" y1="369.77" x2="53.9" y2="369.77" stroke="#000" stroke-width="1.05"/>
<text x="44.10" y="374.17" text-anchor="end" class="tk">180</text>
<line x1="48.3" y1="345.84" x2="53.9" y2="345.84" stroke="#000" stroke-width="1.05"/>
<text x="44.10" y="350.24" text-anchor="end" class="tk">190</text>
<line x1="48.3" y1="321.90" x2="53.9" y2="321.90" stroke="#000" stroke-width="1.05"/>
<text x="44.10" y="326.30" text-anchor="end" class="tk">200</text>
<line x1="53.90" y1="398.5" x2="53.90" y2="404.30" stroke="#000" stroke-width="1.05"/>
<text x="53.90" y="419.20" text-anchor="middle" class="tk">780</text>
<line x1="173.80" y1="398.5" x2="173.80" y2="404.30" stroke="#000" stroke-width="1.05"/>
<text x="173.80" y="419.20" text-anchor="middle" class="tk">845</text>
<line x1="293.70" y1="398.5" x2="293.70" y2="404.30" stroke="#000" stroke-width="1.05"/>
<text x="293.70" y="419.20" text-anchor="middle" class="tk">910</text>
<line x1="413.60" y1="398.5" x2="413.60" y2="404.30" stroke="#000" stroke-width="1.05"/>
<text x="413.60" y="419.20" text-anchor="middle" class="tk">975</text>
<line x1="533.50" y1="398.5" x2="533.50" y2="404.30" stroke="#000" stroke-width="1.05"/>
<text x="533.50" y="419.20" text-anchor="middle" class="tk">1040</text>
<line x1="68.40" y1="334.00" x2="87.60" y2="334.00" stroke="#0000ff" stroke-width="3.2" stroke-linecap="round"/>
<text x="91.20" y="338.60" class="lg">Measured data</text>
<circle cx="173.20" cy="334.00" r="4" fill="#ffff00"/>
<text x="186.70" y="338.60" class="lg">Missing data</text>
<line x1="253.00" y1="334.00" x2="272.30" y2="334.00" stroke="#ff0000" stroke-width="1.7" stroke-linecap="round"/>
<text x="276.00" y="338.60" class="lg">Recovered data</text>
<clipPath id="c4"><rect x="53.9" y="426.5" width="479.6" height="77.0"/></clipPath>
<g clip-path="url(#c4)" fill="none" stroke-linejoin="round">
<polyline points="54.00,492.70 56.18,492.87 58.36,492.95 60.54,493.15 62.72,493.76 64.90,493.90 67.08,493.76 69.26,494.35 71.44,493.90 73.62,494.25 75.80,494.06 77.98,494.33 80.16,494.12 82.34,493.48 84.52,493.60 86.70,493.43 88.88,493.05 91.06,493.08 93.24,493.19 95.42,493.47 97.60,492.96 99.78,493.23 101.96,493.07 104.14,492.87 106.32,492.86 108.50,492.97 110.33,492.58 112.17,493.14 114.00,492.85 115.83,493.23 117.67,493.37 119.50,492.98 121.68,493.23 123.86,493.11 126.04,492.40 128.22,491.99 130.40,491.83 132.58,491.99 134.76,490.88 136.94,491.07 139.12,490.10 141.30,490.07 143.48,489.28 145.66,488.99 147.84,489.01 150.02,488.25 152.20,488.09 154.38,488.17 156.56,487.71 158.74,487.51 160.92,487.26 163.10,486.27 165.28,485.99 167.46,485.96 169.64,485.47 171.82,484.60 174.00,484.50 176.17,484.38 178.33,484.58 180.50,484.42 182.70,483.30 184.90,482.91 187.10,481.37 189.28,480.94 191.45,479.58 193.62,479.02 195.80,477.95 198.00,476.92 200.20,475.51 202.40,474.63 204.57,473.29 206.73,472.73 208.90,471.60 211.10,470.63 213.30,470.10 215.50,469.50 217.67,470.13 219.83,470.06 222.00,470.30 224.18,470.83 226.35,470.77 228.52,470.66 230.70,470.34 232.90,470.02 235.10,469.84 237.30,469.45 239.50,469.18 241.68,469.23 243.85,468.89 246.02,468.71 248.20,468.30 250.35,469.11 252.50,470.63 254.70,469.01 256.90,467.33 259.10,465.73 260.75,463.88 262.40,462.14 264.00,463.16 265.60,464.15 267.80,463.56 270.00,463.14 272.20,462.84 274.37,463.46 276.53,463.29 278.70,463.52 280.90,462.64 283.10,461.55 285.28,462.19 287.46,461.53 289.64,462.00 291.82,462.26 294.00,461.83 296.18,462.25 298.35,462.26 300.52,462.34 302.70,462.49 304.90,460.83 307.10,459.74 309.30,458.25 311.50,456.89 313.68,456.06 315.85,456.29 318.02,455.80 320.20,455.80 322.38,455.58 324.55,455.27 326.72,455.58 328.90,454.75 331.07,455.10 333.25,455.00 335.43,454.58 337.60,454.46 339.78,454.45 341.96,453.61 344.14,453.59 346.32,453.37 348.50,452.82 350.33,452.87 352.17,452.46 354.00,452.37 355.83,452.25 357.67,452.11 359.50,451.68 361.68,451.67 363.86,451.39 366.04,450.95 368.22,451.00 370.40,450.54 372.58,450.77 374.76,450.24 376.94,450.20 379.12,449.84 381.30,449.58 383.48,449.62 385.66,449.79 387.84,450.56 390.02,450.50 392.20,450.72 394.40,451.27 396.60,452.02 398.77,450.75 400.93,449.84 403.10,449.43 405.28,449.03 407.46,449.02 409.64,449.01 411.82,448.92 414.00,448.76 416.18,448.06 418.36,448.18 420.54,448.37 422.72,448.24 424.90,447.64 427.08,447.44 429.26,447.29 431.44,446.96 433.62,446.92 435.80,447.01 437.98,446.59 440.16,446.33 442.34,445.85 444.52,445.85 446.70,446.05 448.88,445.72 451.06,445.42 453.24,445.32 455.42,445.43 457.60,445.28 459.78,444.75 461.96,445.03 464.14,444.71 466.32,444.71 468.50,444.42 470.33,444.44 472.17,444.35 474.00,444.32 475.83,444.00 477.67,444.06 479.50,444.25 481.68,443.55 483.86,443.29 486.04,443.33 488.22,442.68 490.40,442.38 492.58,442.22 494.76,442.53 496.94,441.91 499.12,442.20 501.30,442.25 503.48,441.53 505.66,441.43 507.84,441.42 510.02,441.04 512.20,440.61 514.40,443.18 516.58,442.93 518.75,442.36 520.92,442.07 523.10,441.26 525.08,441.20 527.06,441.22 529.04,441.20 531.02,440.74 533.00,440.70" stroke="#0000ff" stroke-width="4.5"/>
<polyline points="54.00,492.70 56.18,492.81 58.36,493.22 60.54,493.78 62.72,493.27 64.90,494.27 67.08,494.11 69.26,493.87 71.44,494.27 73.62,494.03 75.80,493.87 77.98,494.34 80.16,493.74 82.34,493.67 84.52,493.42 86.70,493.60 88.88,493.46 91.06,492.73 93.24,493.29 95.42,493.16 97.60,493.16 99.78,493.44 101.96,492.91 104.14,492.87 106.32,493.19 108.50,492.64 110.33,492.77 112.17,492.88 114.00,493.27 115.83,493.20 117.67,493.36 119.50,493.10 121.68,492.52 123.86,492.94 126.04,492.59 128.22,492.59 130.40,492.37 132.58,491.28 134.76,490.94 136.94,490.36 139.12,490.66 141.30,489.50 143.48,489.15 145.66,489.47 147.84,488.94 150.02,488.10 152.20,488.38 154.38,488.09 156.56,487.54 158.74,486.79 160.92,487.11 163.10,486.52 165.28,486.26 167.46,486.26 169.64,485.66 171.82,485.29 174.00,484.15 176.17,484.40 178.33,484.65 180.50,484.21 182.70,484.12 184.90,482.34 187.10,481.26 189.28,480.49 191.45,479.61 193.62,479.38 195.80,478.26 198.00,476.98 200.20,475.65 202.40,474.05 204.57,473.34 206.73,472.93 208.90,471.90 211.10,471.26 213.30,469.96 215.50,469.20 217.67,469.39 219.83,470.20 222.00,470.37 224.18,470.46 226.35,470.49 228.52,470.58 230.70,470.37 232.90,470.55 235.10,469.70 237.30,470.17 239.50,469.56 241.68,468.78 243.85,468.76 246.02,468.71 248.20,468.31 250.35,469.51 252.50,470.32 254.70,468.67 256.90,467.60 259.10,465.49 260.75,463.96 262.40,462.10 264.00,462.99 265.60,463.95 267.80,464.07 270.00,463.21 272.20,463.28 274.37,462.69 276.53,463.30 278.70,463.74 280.90,462.25 283.10,462.16 285.28,461.41 287.46,461.98 289.64,461.60 291.82,462.38 294.00,462.06 296.18,462.48 298.35,462.35 300.52,462.70 302.70,462.87 304.90,460.89 307.10,459.21 309.30,458.39 311.50,456.25 313.68,456.79 315.85,455.86 318.02,455.53 320.20,455.30 322.38,455.83 324.55,455.85 326.72,455.16 328.90,455.26 331.07,454.68 333.25,455.16 335.43,454.76 337.60,454.05 339.78,453.66 341.96,454.00 344.14,453.04 346.32,453.54 348.50,452.69 350.33,452.45 352.17,452.62 354.00,452.17 355.83,452.23 357.67,451.64 359.50,452.21 361.68,451.40 363.86,451.70 366.04,450.79 368.22,451.22 370.40,451.18 372.58,450.37 374.76,449.79 376.94,449.92 379.12,449.96 381.30,449.32 383.48,449.87 385.66,449.63 387.84,450.22 390.02,450.71 392.20,450.63 394.40,451.43 396.60,451.41 398.77,451.26 400.93,449.69 403.10,449.62 405.28,449.56 407.46,449.36 409.64,448.81 411.82,448.43 414.00,448.35 416.18,448.63 418.36,448.26 420.54,448.57 422.72,447.61 424.90,447.88 427.08,448.04 429.26,447.56 431.44,447.28 433.62,446.61 435.80,446.44 437.98,446.35 440.16,446.75 442.34,446.49 444.52,445.65 446.70,446.12 448.88,445.11 451.06,445.56 453.24,445.81 455.42,445.06 457.60,445.54 459.78,445.16 461.96,444.45 464.14,444.63 466.32,444.65 468.50,444.35 470.33,444.78 472.17,444.15 474.00,444.69 475.83,444.13 477.67,443.84 479.50,444.26 481.68,443.46 483.86,443.57 486.04,443.47 488.22,442.94 490.40,442.46 492.58,441.93 494.76,442.31 496.94,441.80 499.12,442.25 501.30,441.63 503.48,441.82 505.66,441.33 507.84,441.09 510.02,441.12 512.20,440.36 514.40,443.17 516.58,443.42 518.75,442.28 520.92,442.27 523.10,441.77 525.08,441.24 527.06,440.77 529.04,440.57 531.02,441.22 533.00,440.70" stroke="#ffff00" stroke-width="4.2" stroke-linecap="round" stroke-dasharray="0.8 6.2" stroke-dashoffset="5.2"/>
<polyline points="54.00,492.70 56.18,492.65 58.36,493.14 60.54,493.39 62.72,493.31 64.90,493.78 67.08,493.66 69.26,494.02 71.44,494.10 73.62,494.11 75.80,494.09 77.98,494.01 80.16,493.65 82.34,493.38 84.52,493.24 86.70,493.46 88.88,493.20 91.06,493.47 93.24,492.86 95.42,493.51 97.60,493.19 99.78,493.30 101.96,493.05 104.14,493.03 106.32,492.61 108.50,492.88 110.33,492.54 112.17,492.70 114.00,492.62 115.83,492.96 117.67,493.13 119.50,493.05 121.68,493.25 123.86,492.47 126.04,492.59 128.22,492.13 130.40,492.17 132.58,491.86 134.76,491.37 136.94,490.47 139.12,490.16 141.30,489.97 143.48,489.90 145.66,488.90 147.84,488.96 150.02,488.67 152.20,488.42 154.38,487.77 156.56,487.78 158.74,487.21 160.92,487.21 163.10,486.26 165.28,486.49 167.46,485.70 169.64,485.27 171.82,484.63 174.00,484.32 176.17,484.73 178.33,484.76 180.50,484.46 182.70,483.52 184.90,482.31 187.10,481.29 189.28,480.48 191.45,479.73 193.62,479.36 195.80,478.55 198.00,477.17 200.20,475.72 202.40,474.50 204.57,473.73 206.73,472.85 208.90,471.78 211.10,471.00 213.30,469.99 215.50,469.59 217.67,470.08 219.83,470.37 222.00,470.21 224.18,470.65 226.35,470.39 228.52,470.26 230.70,470.83 232.90,470.37 235.10,470.17 237.30,469.49 239.50,469.73 241.68,469.53 243.85,469.23 246.02,468.85 248.20,468.63 250.35,469.66 252.50,470.56 254.70,468.85 256.90,467.53 259.10,465.90 260.75,464.01 262.40,461.66 264.00,463.22 265.60,464.02 267.80,463.95 270.00,463.00 272.20,463.23 274.37,463.33 276.53,463.19 278.70,463.84 280.90,462.51 283.10,461.59 285.28,461.81 287.46,461.70 289.64,461.91 291.82,462.25 294.00,462.13 296.18,462.32 298.35,462.27 300.52,462.72 302.70,462.91 304.90,461.23 307.10,459.81 309.30,458.28 311.50,456.53 313.68,456.09 315.85,456.26 318.02,456.16 320.20,455.59 322.38,455.62 324.55,455.64 326.72,455.46 328.90,454.75 331.07,454.92 333.25,454.41 335.43,454.30 337.60,454.62 339.78,454.04 341.96,453.87 344.14,453.47 346.32,453.08 348.50,452.70 350.33,452.61 352.17,452.77 354.00,452.43 355.83,452.02 357.67,451.69 359.50,451.64 361.68,451.72 363.86,451.32 366.04,451.25 368.22,451.13 370.40,450.43 372.58,450.61 374.76,449.94 376.94,450.27 379.12,449.60 381.30,449.44 383.48,450.14 385.66,449.94 387.84,450.07 390.02,450.75 392.20,450.78 394.40,451.53 396.60,451.73 398.77,450.93 400.93,450.39 403.10,449.20 405.28,449.40 407.46,448.70 409.64,449.01 411.82,448.40 414.00,448.52 416.18,448.03 418.36,448.03 420.54,448.45 422.72,447.99 424.90,448.12 427.08,447.51 429.26,447.36 431.44,446.96 433.62,447.06 435.80,447.05 437.98,446.59 440.16,446.27 442.34,446.44 444.52,446.20 446.70,445.82 448.88,445.28 451.06,445.55 453.24,445.30 455.42,445.54 457.60,445.00 459.78,445.11 461.96,444.99 464.14,444.71 466.32,444.72 468.50,444.72 470.33,444.82 472.17,444.47 474.00,444.30 475.83,444.67 477.67,443.96 479.50,444.43 481.68,443.99 483.86,443.56 486.04,443.14 488.22,443.02 490.40,442.77 492.58,442.56 494.76,442.47 496.94,441.87 499.12,441.98 501.30,441.75 503.48,442.06 505.66,441.75 507.84,440.97 510.02,441.02 512.20,440.75 514.40,443.18 516.58,442.90 518.75,442.62 520.92,442.02 523.10,441.25 525.08,441.44 527.06,440.97 529.04,441.01 531.02,440.78 533.00,440.70" stroke="#ff0000" stroke-width="2.1"/>
</g>
<rect x="53.9" y="426.5" width="479.6" height="77.0" fill="none" stroke="#000" stroke-width="1.05"/>
<line x1="48.3" y1="503.50" x2="53.9" y2="503.50" stroke="#000" stroke-width="1.05"/>
<text x="44.10" y="507.90" text-anchor="end" class="tk">180</text>
<line x1="48.3" y1="477.83" x2="53.9" y2="477.83" stroke="#000" stroke-width="1.05"/>
<text x="44.10" y="482.23" text-anchor="end" class="tk">200</text>
<line x1="48.3" y1="452.17" x2="53.9" y2="452.17" stroke="#000" stroke-width="1.05"/>
<text x="44.10" y="456.57" text-anchor="end" class="tk">220</text>
<line x1="48.3" y1="426.50" x2="53.9" y2="426.50" stroke="#000" stroke-width="1.05"/>
<text x="44.10" y="430.90" text-anchor="end" class="tk">240</text>
<line x1="53.90" y1="503.5" x2="53.90" y2="509.30" stroke="#000" stroke-width="1.05"/>
<text x="53.90" y="524.20" text-anchor="middle" class="tk">1040</text>
<line x1="173.80" y1="503.5" x2="173.80" y2="509.30" stroke="#000" stroke-width="1.05"/>
<text x="173.80" y="524.20" text-anchor="middle" class="tk">1105</text>
<line x1="293.70" y1="503.5" x2="293.70" y2="509.30" stroke="#000" stroke-width="1.05"/>
<text x="293.70" y="524.20" text-anchor="middle" class="tk">1170</text>
<line x1="413.60" y1="503.5" x2="413.60" y2="509.30" stroke="#000" stroke-width="1.05"/>
<text x="413.60" y="524.20" text-anchor="middle" class="tk">1235</text>
<line x1="533.50" y1="503.5" x2="533.50" y2="509.30" stroke="#000" stroke-width="1.05"/>
<text x="533.50" y="524.20" text-anchor="middle" class="tk">1300</text>
<line x1="68.40" y1="438.60" x2="87.60" y2="438.60" stroke="#0000ff" stroke-width="3.2" stroke-linecap="round"/>
<text x="91.20" y="443.20" class="lg">Measured data</text>
<circle cx="173.20" cy="438.60" r="4" fill="#ffff00"/>
<text x="186.70" y="443.20" class="lg">Missing data</text>
<line x1="253.00" y1="438.60" x2="272.30" y2="438.60" stroke="#ff0000" stroke-width="1.7" stroke-linecap="round"/>
<text x="276.00" y="443.20" class="lg">Recovered data</text>
<text transform="translate(15.1,263.4) rotate(-90)" text-anchor="middle" class="lg">Displacement(mm)</text>
<text x="292.5" y="542.7" text-anchor="middle" class="lg">Day</text>
</svg>
</body></html>
